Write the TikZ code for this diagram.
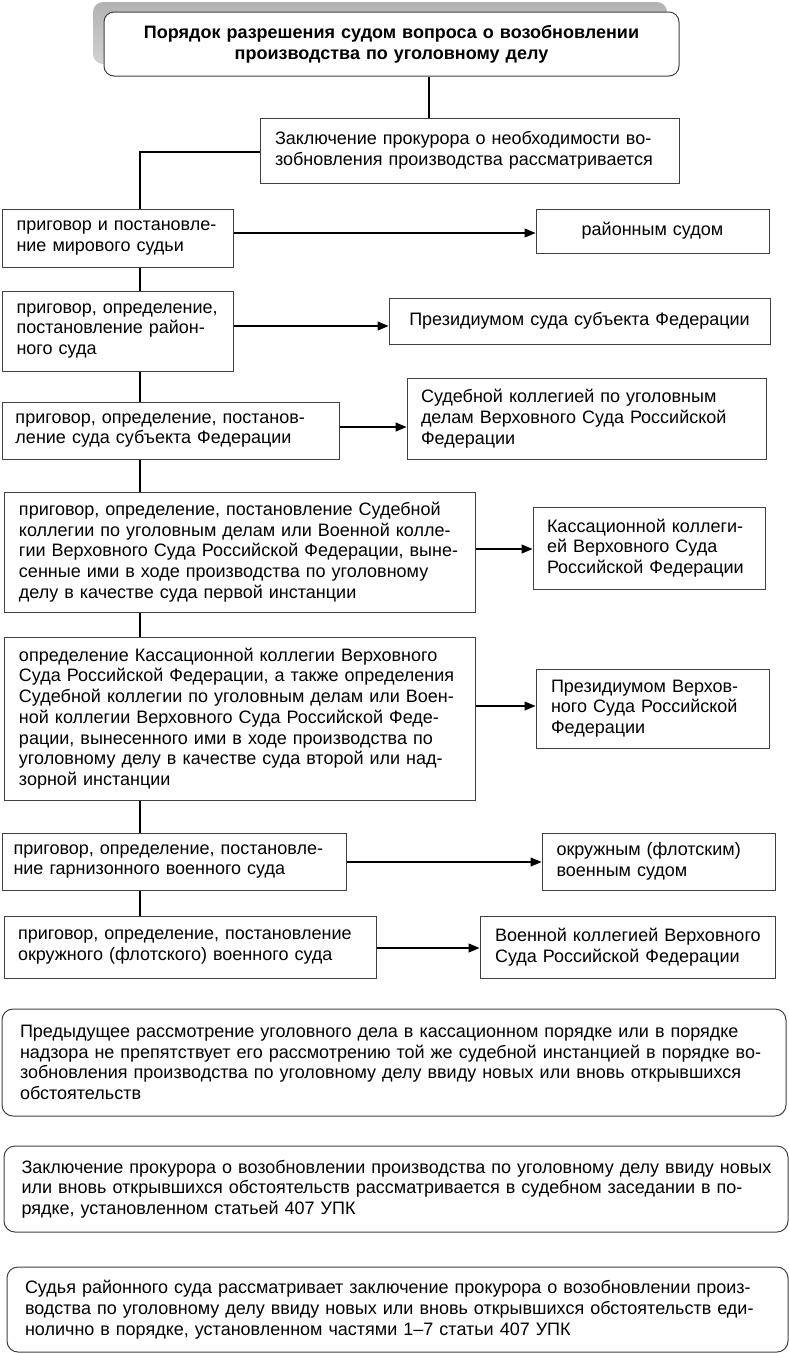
\documentclass[tikz,border=0pt]{standalone}
\usepackage{fontspec}
\setmainfont{Liberation Sans}
\usetikzlibrary{arrows.meta}
\newcommand\fsz{\fontsize{18}{20.7}\selectfont}
\newcommand\jl[1]{\makebox[\linewidth][s]{#1}\\}
\begin{document}
\begin{tikzpicture}[x=1pt,y=-1pt,
  box/.style={draw=black!75, line width=1pt, fill=white, inner sep=0pt, font=\fsz, align=left},
  rbox/.style={box, rounded corners=11pt},
  ln/.style={line width=1.2pt, black},
  arr/.style={line width=1.2pt, black, -{Triangle[length=11pt,width=9pt]}}]
\useasboundingbox (0,0) rectangle (789,1353);
% title with shadow
\shade[top color=black!30, bottom color=black!18, rounded corners=10pt] (93,2) rectangle (667,64);
\node[box, rounded corners=10pt, minimum width=575pt, minimum height=64pt, text width=545pt, align=center, font=\fsz\bfseries] (t) at (391.5,44)
  {Порядок разрешения судом вопроса о возобновлении\\производства по уголовному делу};
\node[box, minimum width=419pt, minimum height=65pt, text width=389pt] (p) at (469.5,150.5)
  {\jl{Заключение прокурора о необходимости во-}зобновления производства рассматривается};
% left column
\node[box, minimum width=231pt, minimum height=58pt, text width=202pt] (l1) at (117.5,238)
  {\jl{приговор и постановле-}ние мирового судьи};
\node[box, minimum width=231pt, minimum height=80pt, text width=202pt] (l2) at (117.5,331)
  {\jl{приговор, определение,}\jl{постановление район-}ного суда};
\node[box, minimum width=337pt, minimum height=57pt, text width=310pt] (l3) at (170.5,430.5)
  {\jl{приговор, определение, постанов-}ление суда субъекта Федерации};
\node[box, minimum width=471pt, minimum height=120pt, text width=442pt] (l4) at (240,552)
  {\jl{приговор, определение, постановление Судебной}\jl{коллегии по уголовным делам или Военной колле-}\jl{гии Верховного Суда Российской Федерации, выне-}\jl{сенные ими в ходе производства по уголовному}делу в качестве суда первой инстанции};
\node[box, minimum width=471pt, minimum height=163pt, text width=442pt] (l5) at (240,718.5)
  {\jl{определение Кассационной коллегии Верховного}\jl{Суда Российской Федерации, а также определения}\jl{Судебной коллегии по уголовным делам или Воен-}\jl{ной коллегии Верховного Суда Российской Феде-}\jl{рации, вынесенного ими в ходе производства по}\jl{уголовному делу в качестве суда второй или над-}зорной инстанции};
\node[box, minimum width=344pt, minimum height=57pt, text width=321pt] (l6) at (174,861.5)
  {\jl{приговор, определение, постановле-}ние гарнизонного военного суда};
\node[box, minimum width=372pt, minimum height=62pt, text width=344pt] (l7) at (190,947)
  {\jl{приговор, определение, постановление}окружного (флотского) военного суда};
% right column
\node[box, minimum width=233pt, minimum height=44pt, text width=203pt, align=center] (r1) at (652.5,231)
  {районным судом};
\node[box, minimum width=381pt, minimum height=46pt, text width=351pt, align=center] (r2) at (579.5,321)
  {Президиумом суда субъекта Федерации};
\node[box, minimum width=359pt, minimum height=81pt, text width=331pt] (r3) at (586.5,418.5)
  {\jl{Судебной коллегией по уголовным}\jl{делам Верховного Суда Российской}Федерации};
\node[box, minimum width=232pt, minimum height=82pt, text width=204pt] (r4) at (649,548)
  {\jl{Кассационной коллеги-}\jl{ей Верховного Суда}Российской Федерации};
\node[box, minimum width=233pt, minimum height=79pt, text width=203pt] (r5) at (652.5,708.5)
  {\jl{Президиумом Верхов-}\jl{ного Суда Российской}Федерации};
\node[box, minimum width=233pt, minimum height=57pt, text width=204pt] (r6) at (658.5,861.5)
  {\jl{окружным (флотским)}военным судом};
\node[box, minimum width=295pt, minimum height=62pt, text width=265pt] (r7) at (627.5,947)
  {\jl{Военной коллегией Верховного}Суда Российской Федерации};
% bottom notes
\node[rbox, minimum width=784pt, minimum height=107pt, text width=748pt] (na) at (394,1062.5)
  {\jl{Предыдущее рассмотрение уголовного дела в кассационном порядке или в порядке}\jl{надзора не препятствует его рассмотрению той же судебной инстанцией в порядке во-}\jl{зобновления производства по уголовному делу ввиду новых или вновь открывшихся}обстоятельств};
\node[rbox, minimum width=784pt, minimum height=86pt, text width=749pt] (nb) at (396,1189)
  {\jl{Заключение прокурора о возобновлении производства по уголовному делу ввиду новых}\jl{или вновь открывшихся обстоятельств рассматривается в судебном заседании в по-}рядке, установленном статьей 407 УПК};
\node[rbox, minimum width=781pt, minimum height=85pt, text width=745pt] (nc) at (397.5,1309.5)
  {\jl{Судья районного суда рассматривает заключение прокурора о возобновлении произ-}\jl{водства по уголовному делу ввиду новых или вновь открывшихся обстоятельств еди-}нолично в порядке, установленном частями 1–7 статьи 407 УПК};
% connectors
\draw[ln] (t.south -| 429,0) -- (p.north -| 429,0);
\coordinate (tr) at (140,152);
\draw[ln] (p.west |- tr) -- (tr) -- (tr |- l1.north);
\draw[ln] (tr |- l1.south) -- (tr |- l2.north);
\draw[ln] (tr |- l2.south) -- (tr |- l3.north);
\draw[ln] (tr |- l3.south) -- (tr |- l4.north);
\draw[ln] (tr |- l4.south) -- (tr |- l5.north);
\draw[ln] (tr |- l5.south) -- (tr |- l6.north);
\draw[ln] (tr |- l6.south) -- (tr |- l7.north);
\draw[arr] (l1.east |- 0,233) -- (r1.west |- 0,233);
\draw[arr] (l2.east |- 0,326) -- (r2.west |- 0,326);
\draw[arr] (l3.east |- 0,427) -- (r3.west |- 0,427);
\draw[arr] (l4.east |- 0,549) -- (r4.west |- 0,549);
\draw[arr] (l5.east |- 0,706) -- (r5.west |- 0,706);
\draw[arr] (l6.east |- 0,862) -- (r6.west |- 0,862);
\draw[arr] (l7.east |- 0,948) -- (r7.west |- 0,948);
\end{tikzpicture}
\end{document}
